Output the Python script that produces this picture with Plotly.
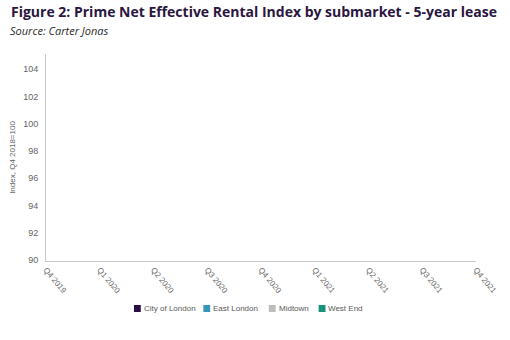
import plotly.graph_objects as go

# Quarterly categories on the x axis
quarters = ["Q4 2019", "Q1 2020", "Q2 2020", "Q3 2020", "Q4 2020",
            "Q1 2021", "Q2 2021", "Q3 2021", "Q4 2021"]

# Submarket series (no published index points for this period)
city_of_london = [None] * len(quarters)
east_london = [None] * len(quarters)
midtown = [None] * len(quarters)
west_end = [None] * len(quarters)

series_names = ["City of London", "East London", "Midtown", "West End"]
series_values = [city_of_london, east_london, midtown, west_end]
series_colors = ["#2b0d45", "#3a96b8", "#bdbdbd", "#16937a"]

y_ticks = [90, 92, 94, 96, 98, 100, 102, 104]

W, H = 510, 340
M = dict(l=40, r=30, t=54, b=79)
PW, PH = W - M["l"] - M["r"], H - M["t"] - M["b"]


def px_x(x):
    return (x - M["l"]) / PW


def px_y(y):
    return (H - M["b"] - y) / PH


fig = go.Figure()
for name, values, color in zip(series_names, series_values, series_colors):
    fig.add_trace(go.Scatter(
        x=quarters, y=values, name=name, mode="lines",
        line=dict(color=color, width=2), showlegend=False,
    ))

# Compact legend row below the axis: square swatch + label per series
legend_left = [130, 201, 268, 319]
legend_y = 308.5
shapes, annotations = [], []
for name, color, lx in zip(series_names, series_colors, legend_left):
    shapes.append(dict(type="rect", xref="paper", yref="paper",
                       x0=px_x(lx), x1=px_x(lx + 7),
                       y0=px_y(legend_y + 3.5), y1=px_y(legend_y - 3.5),
                       fillcolor=color, line=dict(width=0)))
    annotations.append(dict(text=name, xref="paper", yref="paper",
                            x=px_x(lx + 8), y=px_y(legend_y),
                            xanchor="left", yanchor="middle", showarrow=False,
                            font=dict(size=8, color="#595959")))

annotations += [
    dict(text="<b>Figure 2: Prime Net Effective Rental Index by submarket - 5-year lease</b>",
         xref="paper", yref="paper", x=px_x(2), y=px_y(11.5), xanchor="left", yanchor="middle",
         showarrow=False,
         font=dict(family="Open Sans, sans-serif", size=14, color="#2b1640")),
    dict(text="<i>Source: Carter Jonas</i>",
         xref="paper", yref="paper", x=px_x(1), y=px_y(30.5), xanchor="left", yanchor="middle",
         showarrow=False,
         font=dict(family="Open Sans, sans-serif", size=11, color="#2b2b2b")),
]

fig.update_layout(
    width=W, height=H,
    margin=M,
    paper_bgcolor="white", plot_bgcolor="white",
    font=dict(family="Liberation Sans, Arial, sans-serif", color="#555555", size=9),
    showlegend=False,
    xaxis=dict(
        type="category", categoryorder="array", categoryarray=quarters,
        range=[0, 8], tickangle=50, showgrid=False, zeroline=False,
        showline=True, linecolor="#c8c8c8", linewidth=1, ticks="",
        tickfont=dict(size=8, color="#666666"),
    ),
    yaxis=dict(
        range=[89.95, 105.1], tickvals=y_ticks, showgrid=False, zeroline=False,
        showline=True, linecolor="#c8c8c8", linewidth=1, ticks="",
        tickfont=dict(size=9, color="#666666"), ticklabelstandoff=5,
        title=dict(text="Index, Q4 2018=100", font=dict(size=8, color="#666666"), standoff=6),
    ),
    shapes=shapes,
    annotations=annotations,
)

fig.write_html("out.html")
